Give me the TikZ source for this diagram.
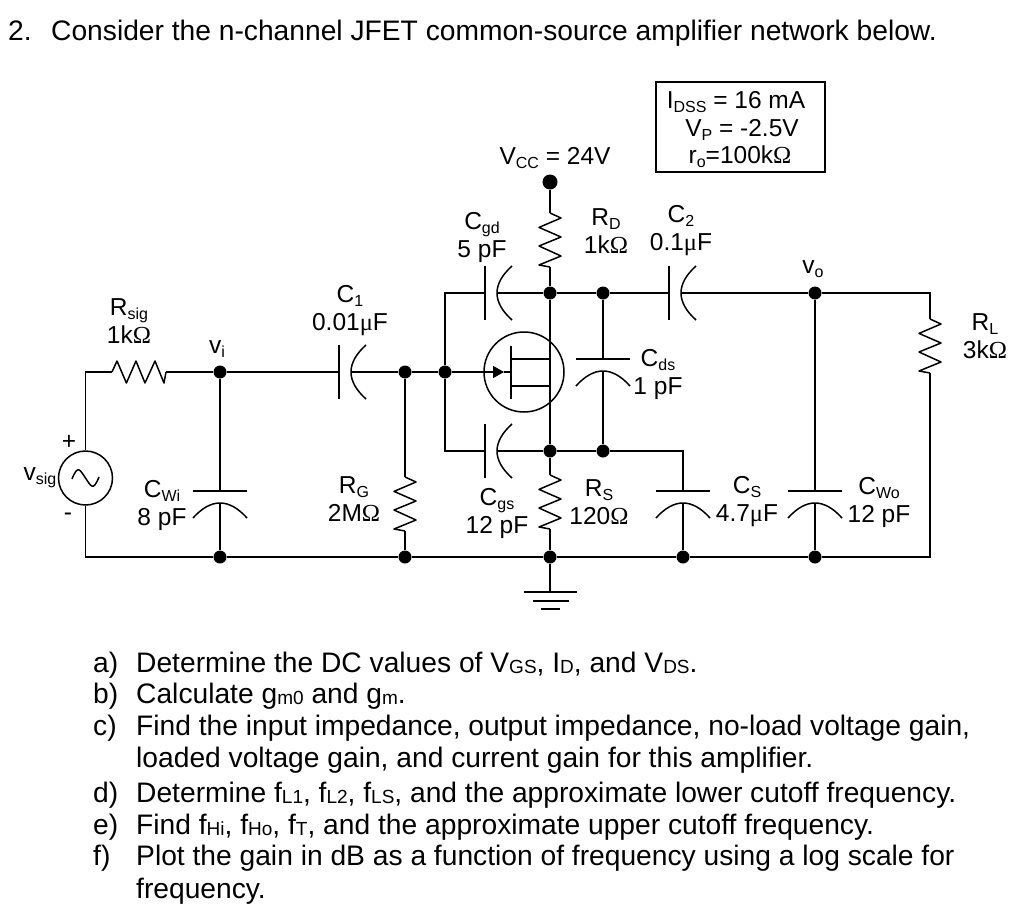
\documentclass[tikz,border=0pt]{standalone}
\usepackage{fontspec}
\setmainfont{Liberation Sans}
\newfontfamily\symf{Liberation Serif}
\usetikzlibrary{arrows.meta, calc, positioning}

\newcommand{\sbl}[1]{\raisebox{-4pt}{\fontsize{16}{16}\selectfont #1}}
\newcommand{\sbt}[1]{\raisebox{-1pt}{\fontsize{19}{19}\selectfont #1}}
\newcommand{\ohm}{{\symf\char"03A9}}
\newcommand{\muu}{{\symf\char"03BC}}

\tikzset{
	wire/.style={line width=1.5pt},
	dot/.style={circle, fill=black, inner sep=0pt, minimum size=13pt},
	lbl/.style={inner sep=0pt, align=center, font=\fontsize{24.5}{28}\selectfont},
	txt/.style={inner sep=0pt, anchor=base west, font=\fontsize{28.2}{32}\selectfont},
	res/.pic={
		\coordinate (-a) at (0,0);
		\coordinate (-b) at (54,0);
		\draw[wire, line join=round] (-a) -- (5,-11) -- (14.4,11) -- (24,-11) -- (33,11) -- (43,-11) -- (52,11) -- (-b);
	},
	cap/.pic={
		\coordinate (-a) at (0,0);
		\coordinate (-b) at (12,0);
		\draw[wire] (0,-27) -- (0,27);
		\draw[wire] (27,-27) .. controls (7,-9) and (7,9) .. (27,27);
	},
}

\begin{document}
\begin{tikzpicture}[x=1pt, y=-1pt]
\useasboundingbox (0,0) rectangle (1024,915);

% junctions
\node[dot, minimum size=15pt] (vcc) at (550,182) {};
\node[dot] (nd) at (550,293) {};
\node[dot] (nd2) at (603,293) {};
\node[dot] (vo) at (815,293) {};
\node[dot] (vi) at (220,372) {};
\node[dot] (gd) at (405,372) {};
\node[dot] (gj) at (445,372) {};
\node[dot] (ns) at (550,451) {};
\node[dot] (ns2) at (603,451) {};
\node[dot] (nbw) at (220,557) {};
\node[dot] (nbg) at (405,557) {};
\node[dot] (nbr) at (550,557) {};
\node[dot] (nbs) at (683,557) {};
\node[dot] (nbo) at (815,557) {};

% parts
\pic[rotate=-90] (rd) at (550,213) {res};
\pic[rotate=-90] (rs) at (550,475) {res};
\pic[rotate=-90] (rg) at (405,477) {res};
\pic[rotate=-90] (rl) at (930,319) {res};
\pic (rsig) at (112,372) {res};
\pic (c1) at (339,372) {cap};
\pic (cgd) at (485,293) {cap};
\pic (cgs) at (485,451) {cap};
\pic (c2) at (669,293) {cap};
\pic[rotate=-90] (cds) at (603,359) {cap};
\pic[rotate=-90] (cwi) at (220,491) {cap};
\pic[rotate=-90] (cs) at (683,491) {cap};
\pic[rotate=-90] (cwo) at (815,491) {cap};

% source
\node[circle, draw, wire, minimum size=54pt, inner sep=0pt] (vs) at (85.5,478) {};
\draw[wire] (72,479) .. controls (78,464) and (80,470) .. (85.5,478) .. controls (91,486) and (93,492) .. (99,477);

% jfet
\node[circle, draw, wire, minimum size=80pt, inner sep=0pt] (jf) at (524,372) {};
\coordinate (cht) at (511,346);
\coordinate (chb) at (511,399);
\coordinate (chg) at (511,372);
\coordinate (arw) at (504,372);
\coordinate (dr) at (550,359);
\coordinate (sr) at (550,386);
\draw[wire] (cht) -- (chb);
\draw[wire] (dr -| chg) -- (dr);
\draw[wire] (sr -| chg) -- (sr);
\draw[wire, -{Triangle[length=11pt, width=12pt]}] (gj) -- (arw);
\draw[wire] (arw) -- (chg);

% ground
\coordinate (gnd) at (550,592);
\draw[wire] (nbr) -- (gnd);
\draw[wire] ($(gnd)+(-26,0)$) -- ($(gnd)+(27,0)$);
\draw[wire] ($(gnd)+(-17,9)$) -- ($(gnd)+(19,9)$);
\draw[wire] ($(gnd)+(-9,17)$) -- ($(gnd)+(10,17)$);

% wires
\draw[wire] (vcc) -- (rd-a);
\draw[wire] (rd-b) -- (nd);
\draw[wire] (nd) -- (ns);
\draw[wire] (nd) -- (nd2);
\draw[wire] (nd2) -- (c2-a);
\draw[wire] (c2-b) -- (vo);
\draw[wire] (vo) -| (rl-a);
\draw[wire] (rl-b) |- (nbo);
\draw[wire] (vs) |- (rsig-a);
\draw[wire] (rsig-b) -- (vi);
\draw[wire] (vi) -- (c1-a);
\draw[wire] (c1-b) -- (gd);
\draw[wire] (gd) -- (gj);
\draw[wire] (gj) |- (cgd-a);
\draw[wire] (cgd-b) -- (nd);
\draw[wire] (gj) |- (cgs-a);
\draw[wire] (cgs-b) -- (ns);
\draw[wire] (nd2) -- (cds-a);
\draw[wire] (cds-b) -- (ns2);
\draw[wire] (ns) -- (ns2);
\draw[wire] (ns2) -| (cs-a);
\draw[wire] (cs-b) -- (nbs);
\draw[wire] (ns) -- (rs-a);
\draw[wire] (rs-b) -- (nbr);
\draw[wire] (gd) -- (rg-a);
\draw[wire] (rg-b) -- (nbg);
\draw[wire] (vi) -- (cwi-a);
\draw[wire] (cwi-b) -- (nbw);
\draw[wire] (vo) -- (cwo-a);
\draw[wire] (cwo-b) -- (nbo);
\draw[wire] (vs) |- (nbw);
\draw[wire] (nbw) -- (nbg);
\draw[wire] (nbg) -- (nbr);
\draw[wire] (nbr) -- (nbs);
\draw[wire] (nbs) -- (nbo);

% labels
\node[lbl] (tvcc) at (555,158) {V\sbl{CC} = 24V};
\node[draw, wire, minimum width=169pt, minimum height=90pt] (box) at (740.5,127) {};
\node[lbl] (tb1) at (736,102) {I\sbl{DSS} = 16 mA};
\node[lbl] (tb2) at (742,130) {V\sbl{P} = -2.5V};
\node[lbl] (tb3) at (740,157) {r\sbl{o}=100k\ohm};
\node[lbl] (tcgd) at (482,237) {C\sbl{gd}\\5 pF};
\node[lbl] (trd) at (606,231) {R\sbl{D}\\1k\ohm};
\node[lbl] (tc2) at (681,231) {C\sbl{2}\\0.1\muu F};
\node[lbl] (tvo) at (813,269) {v\sbl{o}};
\node[lbl] (trl) at (985,336) {R\sbl{L}\\3k\ohm};
\node[lbl] (trsig) at (129,321) {R\sbl{sig}\\1k\ohm};
\node[lbl] (tvi) at (217,349) {v\sbl{i}};
\node[lbl] (tc1) at (350,311) {C\sbl{1}\\0.01\muu F};
\node[lbl] (tcds) at (658,374) {C\sbl{ds}\\1 pF};
\node[lbl] (tvs) at (40,478) {v\sbl{sig}};
\node[lbl] (tplus) at (69,442) {+};
\node[lbl] (tminus) at (68,517) {-};
\node[lbl] (tcwi) at (162,505) {C\sbl{Wi}\\8 pF};
\node[lbl] (trg) at (354,499) {R\sbl{G}\\2M\ohm};
\node[lbl] (tcgs) at (497,513) {C\sbl{gs}\\12 pF};
\node[lbl] (trs) at (599,502) {R\sbl{S}\\120\ohm};
\node[lbl] (tcs) at (747,502) {C\sbl{S}\\4.7\muu F};
\node[lbl] (tcwo) at (879,502) {C\sbl{Wo}\\12 pF};

% question text
\node[txt] (q0) at (8,41) {2.};
\node[txt] (q1) at (51,41) {Consider the n-channel JFET common-source amplifier network below.};
\node[txt] (la) at (93,672) {a)};
\node[txt] (ta) at (136,672) {Determine the DC values of V\sbt{GS}, I\sbt{D}, and V\sbt{DS}.};
\node[txt] (lb) at (93,703) {b)};
\node[txt] (tb) at (136,703) {Calculate g\sbt{m0} and g\sbt{m}.};
\node[txt] (lc) at (93,735) {c)};
\node[txt] (tc) at (136,735) {Find the input impedance, output impedance, no-load voltage gain,};
\node[txt] (tc2b) at (136,767) {loaded voltage gain, and current gain for this amplifier.};
\node[txt] (ld) at (93,802) {d)};
\node[txt] (td) at (136,802) {Determine f\sbt{L1}, f\sbt{L2}, f\sbt{LS}, and the approximate lower cutoff frequency.};
\node[txt] (le) at (93,834) {e)};
\node[txt] (te) at (136,834) {Find f\sbt{Hi}, f\sbt{Ho}, f\sbt{T}, and the approximate upper cutoff frequency.};
\node[txt] (lf) at (93,865) {f)};
\node[txt] (tf) at (136,865) {Plot the gain in dB as a function of frequency using a log scale for};
\node[txt] (tf2) at (136,898) {frequency.};
\end{tikzpicture}
\end{document}
